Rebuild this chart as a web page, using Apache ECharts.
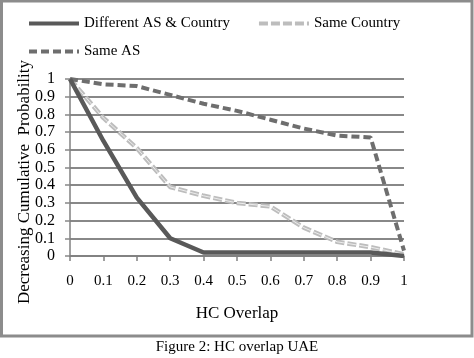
<!DOCTYPE html>
<html>
<head>
<meta charset="utf-8">
<script src="https://cdn.jsdelivr.net/npm/echarts@6/dist/echarts.min.js"></script>
<style>html,body{margin:0;padding:0;background:#fff}#c{width:474px;height:358px}</style>
</head>
<body>
<div id="c"></div>
<script>
const xValues = [0, 0.1, 0.2, 0.3, 0.4, 0.5, 0.6, 0.7, 0.8, 0.9, 1];
const differentASCountry = [1, 0.65, 0.33, 0.1, 0.02, 0.02, 0.02, 0.02, 0.02, 0.02, 0];
const sameCountry = [1, 0.78, 0.61, 0.39, 0.34, 0.3, 0.28, 0.16, 0.08, 0.05, 0.01];
const sameAS = [1, 0.97, 0.96, 0.91, 0.86, 0.82, 0.77, 0.72, 0.68, 0.67, 0.03];
const seriesNames = ['Different AS & Country', 'Same Country', 'Same AS'];
const xAxisTitle = 'HC Overlap';
const yAxisTitle = 'Decreasing Cumulative  Probability';
const caption = 'Figure 2: HC overlap UAE';

const FONT = '"Liberation Serif", "Times New Roman", serif';
const pair = arr => arr.map((v, i) => [xValues[i], v]);
const fmt = v => String(Math.round(v * 10) / 10);

const chart = echarts.init(document.getElementById('c'), null, {renderer: 'canvas'});
chart.setOption({
  animation: false,
  backgroundColor: '#fff',
  textStyle: {fontFamily: FONT},
  grid: {left: 70, right: 70, top: 79, bottom: 102},
  legend: [
    {data: [seriesNames[0], seriesNames[1]], left: 27, top: 16, padding: 0, itemWidth: 50, itemHeight: 14, itemGap: 27,
     itemStyle: {opacity: 0}, lineStyle: {width: 4},
     textStyle: {fontFamily: FONT, fontSize: 15, color: '#000'}},
    {data: [seriesNames[2]], left: 27, top: 44, padding: 0, itemWidth: 50, itemHeight: 14,
     itemStyle: {opacity: 0}, lineStyle: {width: 4},
     textStyle: {fontFamily: FONT, fontSize: 15, color: '#000'}}
  ],
  xAxis: {
    type: 'value', min: 0, max: 1, interval: 0.1,
    name: xAxisTitle, nameLocation: 'middle', nameGap: 49,
    nameTextStyle: {fontFamily: FONT, fontSize: 17, color: '#000'},
    axisLine: {show: true, lineStyle: {color: '#808080', width: 1.5}},
    axisTick: {show: true, length: 5, lineStyle: {color: '#808080', width: 1.5}},
    axisLabel: {margin: 18, fontFamily: FONT, fontSize: 15, color: '#000', formatter: fmt},
    splitLine: {show: false}
  },
  yAxis: {
    type: 'value', min: 0, max: 1, interval: 0.1,
    axisLine: {show: true, lineStyle: {color: '#808080', width: 1.5}},
    axisTick: {show: true, length: 5, lineStyle: {color: '#888', width: 1.5}},
    axisLabel: {margin: 15, fontFamily: FONT, fontSize: 16, color: '#000', formatter: fmt},
    splitLine: {show: true, lineStyle: {color: '#888', width: 1.8}}
  },
  series: [
    {name: seriesNames[0], type: 'line', data: pair(differentASCountry), symbol: 'none', z: 3,
     lineStyle: {color: '#595959', width: 4.5}, itemStyle: {color: '#595959'}},
    {name: seriesNames[1], type: 'line', data: pair(sameCountry), symbol: 'none', z: 2,
     lineStyle: {color: '#bdbdbd', width: 4.5, type: [9, 3]}, itemStyle: {color: '#bdbdbd'}},
    {name: 'sc-inner', type: 'line', data: pair(sameCountry), symbol: 'none', z: 2, silent: true,
     lineStyle: {color: '#ececec', width: 1, type: [9, 3]}},
    {name: seriesNames[2], type: 'line', data: pair(sameAS), symbol: 'none', z: 2,
     lineStyle: {color: '#6e6e6e', width: 4, type: [8, 4]}, itemStyle: {color: '#6e6e6e'}}
  ],
  graphic: [
    {type: 'rect', shape: {x: 1.5, y: 1, width: 470.5, height: 335}, z: 10,
     style: {fill: 'none', stroke: '#8c8c8c', lineWidth: 3}},
    {type: 'text', x: 25, y: 182, rotation: Math.PI / 2, z: 5,
     style: {text: yAxisTitle, font: '17px ' + FONT, fill: '#000', textAlign: 'center', textVerticalAlign: 'middle'}},
    {type: 'text', x: 237, y: 347, z: 5,
     style: {text: caption, font: '15px ' + FONT, fill: '#000', textAlign: 'center', textVerticalAlign: 'middle'}}
  ]
});
</script>
</body>
</html>
